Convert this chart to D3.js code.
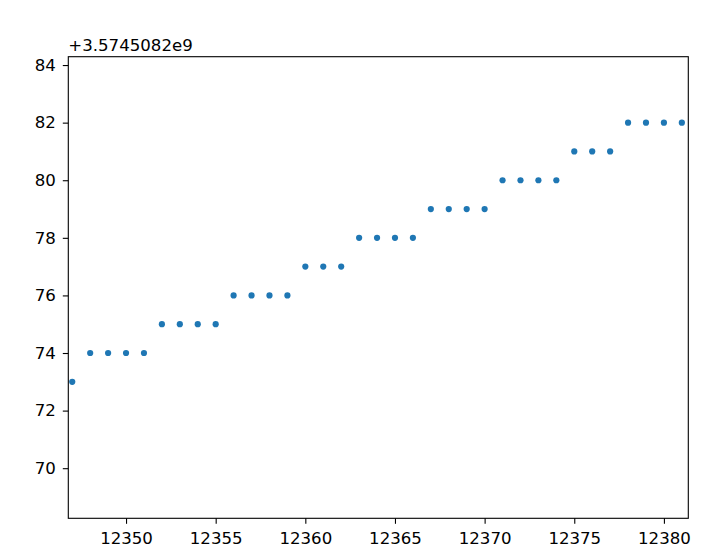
<!DOCTYPE html>
<html>
<head>
<meta charset="utf-8">
<script src="https://cdn.jsdelivr.net/npm/d3@7"></script>
<style>
  body { margin: 0; background: #fff; }
  svg text { font-family: "DejaVu Sans", sans-serif; }
</style>
</head>
<body>
<svg id="chart" width="703" height="557"></svg>
<script>
// x positions, one point per integer step
var xValues = [12347, 12348, 12349, 12350, 12351, 12352, 12353, 12354, 12355, 12356,
               12357, 12358, 12359, 12360, 12361, 12362, 12363, 12364, 12365, 12366,
               12367, 12368, 12369, 12370, 12371, 12372, 12373, 12374, 12375, 12376,
               12377, 12378, 12379, 12380, 12381];
// y values shown relative to the offset
var yValues = [73, 74, 74, 74, 74, 75, 75, 75, 75, 76,
               76, 76, 76, 77, 77, 77, 78, 78, 78, 78,
               79, 79, 79, 79, 80, 80, 80, 80, 81, 81,
               81, 82, 82, 82, 82];
var xTicks = [12350, 12355, 12360, 12365, 12370, 12375, 12380];
var yTicks = [70, 72, 74, 76, 78, 80, 82, 84];
var offsetLabel = "+3.5745082e9";

var svg = d3.select("#chart");
// plot area box (note: "top" is taken by window.top)
var plotLeft = 68.3, plotRight = 688.3, plotTop = 56.7, plotBottom = 518.3;
var fontSize = "16.6px";

var x = d3.scaleLinear().domain([12346.78, 12381.36]).range([plotLeft, plotRight]);
var y = d3.scaleLinear().domain([68.26, 84.29]).range([plotBottom, plotTop]);

// points
svg.append("g")
  .selectAll("circle")
  .data(xValues)
  .enter()
  .append("circle")
  .attr("cx", d => x(d))
  .attr("cy", (d, i) => y(yValues[i]))
  .attr("r", 3.1)
  .attr("fill", "#1f77b4");

// axes
var xAxis = svg.append("g")
  .attr("transform", `translate(0,${plotBottom})`)
  .call(d3.axisBottom(x).tickValues(xTicks).tickFormat(d3.format("d")).tickSize(5.5).tickPadding(8));
var yAxis = svg.append("g")
  .attr("transform", `translate(${plotLeft},0)`)
  .call(d3.axisLeft(y).tickValues(yTicks).tickFormat(d3.format("d")).tickSize(5.5).tickPadding(7));

[xAxis, yAxis].forEach(function (a) {
  a.select(".domain").remove();
  a.selectAll(".tick line").attr("stroke", "#000").attr("stroke-width", 1.1);
  a.selectAll(".tick text").attr("fill", "#000").attr("font-size", fontSize);
});

// frame
svg.append("rect")
  .attr("x", plotLeft)
  .attr("y", plotTop)
  .attr("width", plotRight - plotLeft)
  .attr("height", plotBottom - plotTop)
  .attr("fill", "none")
  .attr("stroke", "#000")
  .attr("stroke-width", 1.1);

// offset text
svg.append("text")
  .attr("x", plotLeft)
  .attr("y", plotTop - 5.5)
  .text(offsetLabel)
  .attr("fill", "#000")
  .attr("font-size", fontSize);
</script>
</body>
</html>
